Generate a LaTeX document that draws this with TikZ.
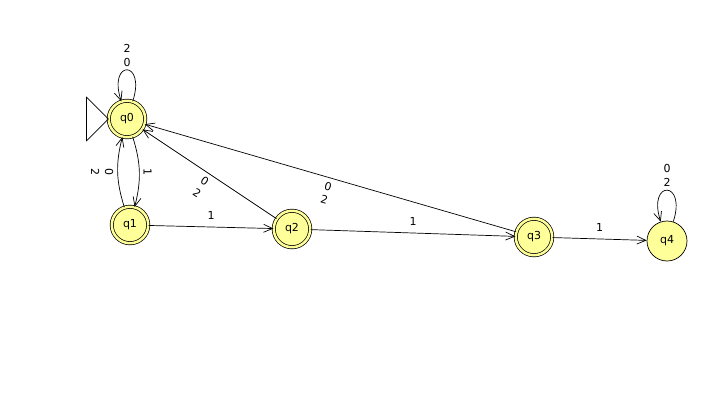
\documentclass[tikz,border=0pt]{standalone}
\usepackage{fontspec}
\setmainfont{DejaVu Sans}
\usetikzlibrary{arrows.meta}
\definecolor{stateyel}{RGB}{255,255,153}

\begin{document}
\begin{tikzpicture}[x=1pt, y=1pt, font=\fontsize{11}{14}\selectfont, line join=round, line width=0.7pt,
    >={Straight Barb[length=9pt,width=8pt]},
    state/.style={circle, draw, fill=stateyel, minimum size=40pt, inner sep=0pt},
    accept/.style={state, double=stateyel, double distance=2.5pt, minimum size=36.5pt},
    lbl/.style={align=center, inner sep=1pt}]
    \useasboundingbox (0,0) rectangle (728,-404);
    % states
    \node[accept] (q0) at (127,-119) {q0};
    \node[accept] (q1) at (130,-225) {q1};
    \node[accept] (q2) at (292,-229) {q2};
    \node[accept] (q3) at (534,-237) {q3};
    \node[state]  (q4) at (667,-241) {q4};
    % start marker
    \draw (q0.west) -- ++(-22,22) -- ++(0,-44) -- cycle;
    % loops
    \draw[->] (q0.72) .. controls +(72:44) and +(108:44) .. node[above=2pt, lbl] {2\\0} (q0.108);
    \draw[->] (q4.72) .. controls +(72:44) and +(108:44) .. node[above=2pt, lbl] {0\\2} (q4.108);
    % q0 <-> q1
    \draw[->] (q0) to[bend left=16] node[rotate=-90, anchor=south, inner sep=4pt] {1} (q1);
    \draw[->] (q1) to[bend left=16] node[rotate=-90, anchor=north, lbl, inner sep=4pt] {0\\2} (q0);
    % forward edges
    \foreach \a/\b in {q1/q2,q2/q3,q3/q4}
    \draw[->] (\a) -- node[above=4pt] {1} (\b);
    % back edges
    \foreach \a in {q2,q3}
    \draw[->] (\a) -- node[sloped, below=3pt, lbl] {0\\2} (q0);
\end{tikzpicture}
\end{document}
